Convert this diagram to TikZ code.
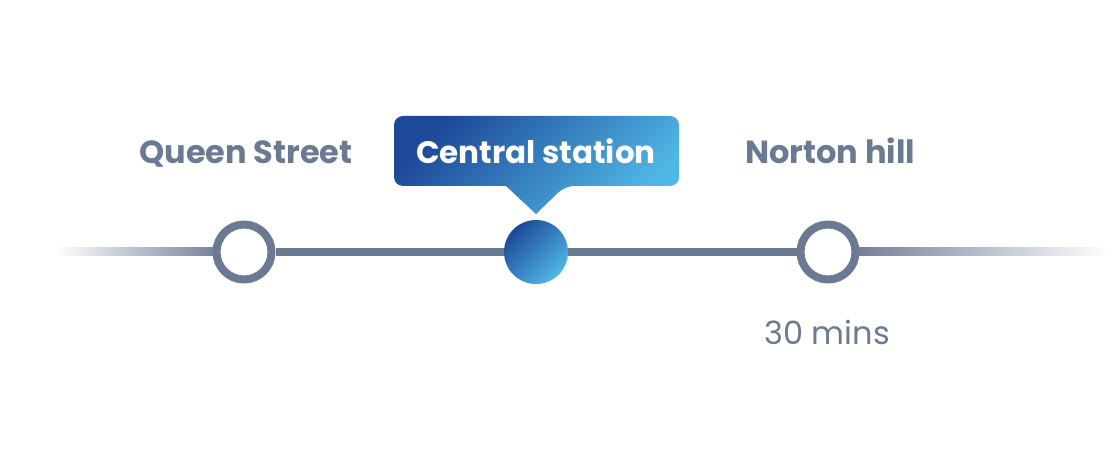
\documentclass[tikz,border=0pt]{standalone}
\usepackage{fontspec}
\setmainfont{Poppins}
\definecolor{slate}{RGB}{107,122,147}
\definecolor{bdark}{RGB}{30,72,152}
\definecolor{blight}{RGB}{80,184,230}
\tikzset{
  ring/.style={circle, draw=slate, line width=8pt, fill=white, minimum size=55pt, inner sep=0pt},
  active/.style={circle, minimum size=64pt, inner sep=0pt, top color=bdark, bottom color=blight, shading angle=45},
  stoplabel/.style={text=slate, anchor=base, font=\fontsize{32}{38}\selectfont\bfseries},
  timelabel/.style={text=slate, anchor=base, font=\fontsize{32}{38}\selectfont},
  track/.style={draw=slate, line width=8pt},
}
\begin{document}
\begin{tikzpicture}[x=1pt,y=-1pt]
\useasboundingbox[fill=white] (0,0) rectangle (1110,470);
% fading ends
\coordinate (lf) at (55,252);
\coordinate (rf) at (1108,252);
\shade[left color=white, right color=slate] (lf) ++(0,-4) rectangle (228,256);
\shade[left color=slate, right color=white] (844,248) rectangle (rf |- 0,256);
% stops
\node[ring] (q) at (244,252) {};
\node[active] (c) at (536,252) {};
\node[ring] (n) at (828,252) {};
\draw[track] (q) -- (c);
\draw[track] (c) -- (n);
% callout
\shade[top color=bdark, bottom color=blight, shading angle=45, rounded corners=9pt]
  (394,116) -- (679,116) -- (679,186) -- (565,186) [sharp corners] -- (536,214) -- (506,186) [rounded corners=9pt] -- (394,186) -- cycle;
\node[text=white, anchor=base, font=\fontsize{31}{37}\selectfont\bfseries] (ct) at (536,164) {Central station};
\node[stoplabel] (ql) at (246,164) {Queen Street};
\node[stoplabel] (nl) at (830,164) {Norton hill};
\node[timelabel] (tl) at (827,344) {30 mins};
\end{tikzpicture}
\end{document}
